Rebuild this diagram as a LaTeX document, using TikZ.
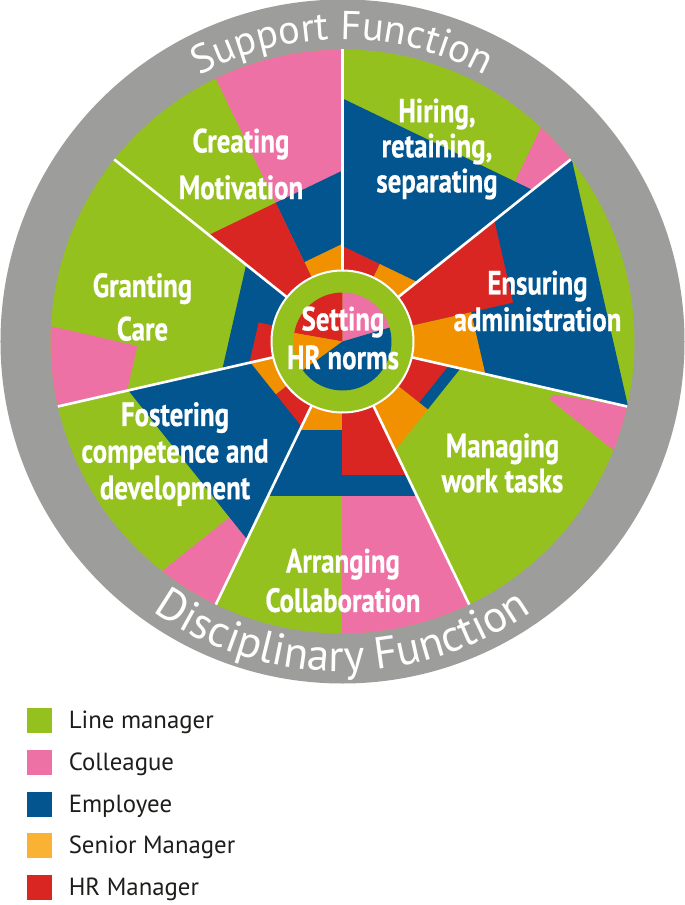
\documentclass[tikz,border=0pt]{standalone}
\usepackage{fontspec}
\usepackage{tikz}
\usetikzlibrary{positioning,decorations.text}
\setmainfont{PT Sans}
\newfontfamily\labelfont[FakeStretch=0.8, FakeBold=0.6, UprightFont={* Bold}, BoldFont={* Bold}]{PT Sans}
\newfontfamily\ringfont{PT Sans}
\definecolor{linegreen}{HTML}{95C11F}
\definecolor{colpink}{HTML}{EE71A6}
\definecolor{empblue}{HTML}{03558F}
\definecolor{senorange}{HTML}{F29100}
\definecolor{senorangelight}{HTML}{F9B233}
\definecolor{hrred}{HTML}{D92622}
\definecolor{ringgray}{HTML}{9D9D9C}
\definecolor{legink}{HTML}{1D1D1B}
\newcommand\wedgeclip{\clip (0,0) -- (-25.714:292) arc[start angle=-25.714, end angle=25.714, radius=292] -- cycle;}
\tikzset{
  seclabel/.style={text=white, align=center, inner sep=0pt, font=\labelfont\fontsize{16.8}{17.5}\selectfont},
  swatch/.style={minimum size=12.5pt, inner sep=0pt},
  legtext/.style={font=\fontsize{12.4}{14}\selectfont, text=legink, inner sep=0pt, anchor=base west},
  sepline/.style={white, line width=1.3pt},
}

\begin{document}
\begin{tikzpicture}[x=0.5pt,y=0.5pt]
  \fill[white] (-342.5,-563.5) rectangle (342.5,341.5);
  \useasboundingbox (-342.5,-563.5) rectangle (342.5,341.5);
  \fill[ringgray] (0,0) circle (342);

  \begin{scope}[rotate=115.714]
    \wedgeclip
    \fill[linegreen] (0,-200) rectangle (300,200);
    \fill[colpink] (0,-200) rectangle (300,0);
    \fill[empblue] (0,-200) rectangle (154,0);
    \fill[senorange] (0,-200) rectangle (88,0);
    \fill[hrred] (0,0) rectangle (154,200);
  \end{scope}
  \begin{scope}[rotate=167.143]
    \wedgeclip
    \fill[linegreen] (0,-200) rectangle (300,200);
    \fill[colpink] (199,50) rectangle (300,200);
    \fill[empblue] (0,-200) rectangle (111,200);
    \fill[hrred] (0,0) rectangle (86,200);
  \end{scope}
  \begin{scope}[rotate=218.571]
    \wedgeclip
    \fill[linegreen] (0,-200) rectangle (300,200);
    \fill[colpink] (198,67) rectangle (300,200);
    \fill[empblue] (0,-200) rectangle (198,200);
    \fill[senorange] (0,-200) rectangle (85,0);
    \fill[hrred] (0,0) rectangle (85,200);
  \end{scope}
  \begin{scope}[rotate=270]
    \wedgeclip
    \fill[linegreen] (0,-200) rectangle (300,200);
    \fill[colpink] (0,0) rectangle (300,200);
    \fill[empblue] (0,-200) rectangle (154,200);
    \fill[senorange] (0,-200) rectangle (88.5,0);
    \fill[hrred] (0,0) rectangle (133.5,200);
  \end{scope}
  \begin{scope}[rotate=321.429]
    \wedgeclip
    \fill[linegreen] (0,-200) rectangle (300,200);
    \fill[colpink] (198,84) -- (198,90) -- (263,127) -- (330,160) -- (330,84) -- cycle;
    \fill[empblue] (0,0) rectangle (109,200);
    \fill[hrred] (0,0) rectangle (98,200);
    \fill[senorange] (0,-200) rectangle (109,0);
  \end{scope}
  \begin{scope}[rotate=12.857]
    \wedgeclip
    \fill[linegreen] (0,-200) rectangle (300,200);
    \fill[empblue] (0,-200) rectangle (264,200);
    \fill[hrred] (0,0) rectangle (175,200);
    \fill[senorange] (0,-200) rectangle (132,0);
  \end{scope}
  \begin{scope}[rotate=64.286]
    \wedgeclip
    \fill[linegreen] (0,-200) rectangle (300,200);
    \fill[colpink] (219,-200) rectangle (300,-86);
    \fill[empblue] (0,-200) rectangle (219,200);
    \fill[hrred] (0,0) rectangle (86,200);
    \fill[senorange] (0,-200) rectangle (86,0);
  \end{scope}

  \fill[linegreen] (0,0) circle (71);
  \fill[colpink] (0,0) -- (16.5:49) arc[start angle=16.5, end angle=90, radius=49] -- cycle;
  \fill[hrred] (0,0) -- (90:49) arc[start angle=90, end angle=170, radius=49] -- cycle;
  \fill[senorange] (0,0) -- (170:49) arc[start angle=170, end angle=216, radius=49] -- cycle;
  \fill[empblue] (0,0) -- (216:49) arc[start angle=216, end angle=376.5, radius=49] -- cycle;
  \draw[white, line width=1pt] (0,0) circle (71);
  \foreach \a in {0,...,6}
    \draw[sepline] ({90+51.4286*\a}:71) -- ({90+51.4286*\a}:292);

  \path[decorate, decoration={text along path, text align=center, text color=white,
    text={|\ringfont\fontsize{20.2}{24}\selectfont|Support Function}}]
    (150:302) arc[start angle=150, end angle=30, radius=302];
  \path[decorate, decoration={text along path, text align=center, text color=white,
    text={|\ringfont\fontsize{22.4}{24}\selectfont|Disciplinary Function}}]
    (200:330) arc[start angle=200, end angle=340, radius=330];

  \node[seclabel] (creating) at (-101.5,177.5) {Creating\\[5.8pt]Motivation};
  \node[seclabel] (hiring) at (94.5,192.5) {Hiring,\\retaining,\\separating};
  \node[seclabel] (ensuring) at (195,40.5) {Ensuring\\[0.8pt]administration};
  \node[seclabel] (granting) at (-200,34.5) {Granting\\[4.2pt]Care};
  \node[seclabel] (fostering) at (-167.5,-112.5) {Fostering\\[0.8pt]competence and\\[0.8pt]development};
  \node[seclabel] (arranging) at (0.5,-239) {Arranging\\[2.2pt]Collaboration};
  \node[seclabel] (managing) at (160,-121.5) {Managing\\work tasks};
  \node[seclabel] (setting) at (0.5,3.5) {Setting\\[1.8pt]HR norms};

  \foreach \col/\name [count=\i from 0] in {linegreen/Line manager, colpink/Colleague,
      empblue/Employee, senorangelight/Senior Manager, hrred/HR Manager} {
    \node[swatch, fill=\col] (key\i) at (-303,{-379.3-41.7*\i}) {};
    \node[legtext] (keytext\i) at ([shift={(8pt,2.5pt)}]key\i.south east) {\name};
  }
\end{tikzpicture}
\end{document}
